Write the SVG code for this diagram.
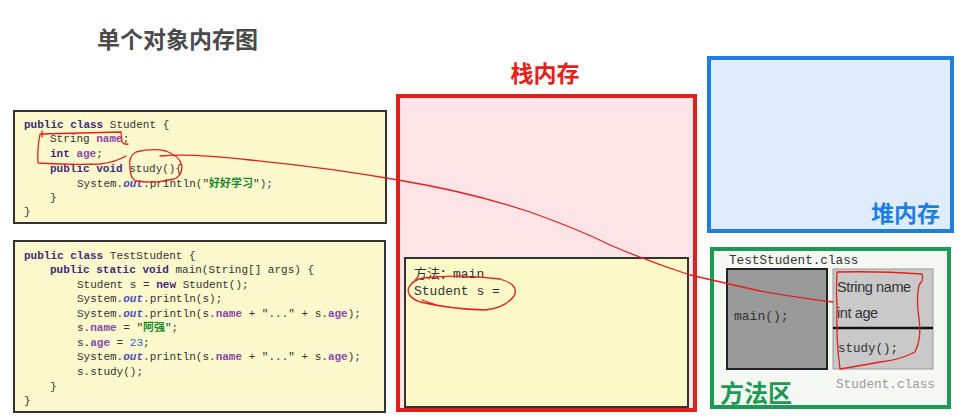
<svg xmlns="http://www.w3.org/2000/svg" width="963" height="418" viewBox="0 0 963 418">
<style>
.code{font-family:"Liberation Mono","Noto Sans CJK SC",monospace;font-size:11px;fill:#333}
.kw{fill:#3f2a7a;font-weight:bold}
.fld{fill:#8a48a8;font-weight:bold}
.st{fill:#4a4ac0;font-style:italic;font-weight:bold}
.str{fill:#1a8a2a;font-weight:bold}
.num{fill:#2a62d0}
.box{fill:#fdf9cc;stroke:#333;stroke-width:2}
.cjk{font-family:"Noto Sans CJK SC",sans-serif;font-weight:bold}
.mono{font-family:"Liberation Mono","Noto Sans CJK SC",monospace;fill:#333}
.ink{fill:none;stroke:#e3201b;stroke-width:1.3;stroke-linecap:round;stroke-linejoin:round}
</style>
<rect width="963" height="418" fill="#ffffff"/>
<g id="title">
<text x="97" y="48" class="cjk" font-size="23" fill="#4a4a4a">单个对象内存图</text>
</g>
<g id="code-student">
<rect class="box" x="14" y="111" width="372" height="112"/>
<text class="code" x="24" y="128"><tspan class="kw">public class</tspan> Student {</text>
<text class="code" x="50" y="142">String <tspan class="fld">name</tspan>;</text>
<text class="code" x="50" y="157"><tspan class="kw">int</tspan> <tspan class="fld">age</tspan>;</text>
<text class="code" x="50" y="172"><tspan class="kw">public void</tspan> study(){</text>
<text class="code" x="77" y="187">System.<tspan class="st">out</tspan>.println("<tspan class="str">好好学习</tspan>");</text>
<text class="code" x="50" y="201">}</text>
<text class="code" x="24" y="215">}</text>
</g>
<g id="code-teststudent">
<rect class="box" x="14" y="241" width="371" height="171"/>
<text class="code" x="24" y="259"><tspan class="kw">public class</tspan> TestStudent {</text>
<text class="code" x="50" y="273"><tspan class="kw">public static void</tspan> main(String[] args) {</text>
<text class="code" x="77" y="288">Student s = <tspan class="kw">new</tspan> Student();</text>
<text class="code" x="77" y="302">System.<tspan class="st">out</tspan>.println(s);</text>
<text class="code" x="77" y="317">System.<tspan class="st">out</tspan>.println(s.<tspan class="fld">name</tspan> + "..." + s.<tspan class="fld">age</tspan>);</text>
<text class="code" x="77" y="331">s.<tspan class="fld">name</tspan> = "<tspan class="str">阿强</tspan>";</text>
<text class="code" x="77" y="346">s.<tspan class="fld">age</tspan> = <tspan class="num">23</tspan>;</text>
<text class="code" x="77" y="360">System.<tspan class="st">out</tspan>.println(s.<tspan class="fld">name</tspan> + "..." + s.<tspan class="fld">age</tspan>);</text>
<text class="code" x="77" y="375">s.study();</text>
<text class="code" x="50" y="390">}</text>
<text class="code" x="24" y="404">}</text>
</g>
<g id="stack">
<text x="545" y="82" class="cjk" font-size="23" fill="#e3201b" text-anchor="middle">栈内存</text>
<rect x="398" y="96" width="297" height="314" fill="#fde4e6" stroke="#e3201b" stroke-width="4"/>
<rect x="405" y="258" width="283" height="149" fill="#fdf8c8" stroke="#333" stroke-width="2"/>
<text x="414" y="278" class="mono" font-size="13">方法：main</text>
<text x="414" y="295" class="mono" font-size="13">Student s =</text>
</g>
<g id="heap">
<rect x="709" y="58" width="243" height="173" fill="#deecfb" stroke="#1f7fe0" stroke-width="4"/>
<text x="940" y="222" class="cjk" font-size="23" fill="#1f7fe0" text-anchor="end">堆内存</text>
</g>
<g id="method-area">
<rect x="712" y="249" width="237" height="158" fill="#f4f7f2" stroke="#1a9a55" stroke-width="4"/>
<text x="729" y="264" class="mono" font-size="12.7">TestStudent.class</text>
<rect x="727" y="269" width="100" height="100" fill="#9a9a9a" stroke="#222" stroke-width="2"/>
<text x="734" y="320" class="mono" font-size="13">main();</text>
<rect x="833" y="269" width="100" height="100" fill="#c9c9c9" stroke="#999" stroke-width="1"/>
<line x1="833" y1="328" x2="933" y2="328" stroke="#111" stroke-width="2.5"/>
<text x="837" y="292" font-family="'Liberation Sans',sans-serif" font-size="14.5" letter-spacing="-0.4" fill="#333">String name</text>
<text x="837" y="318" font-family="'Liberation Sans',sans-serif" font-size="14.5" letter-spacing="-0.4" fill="#333">int age</text>
<text x="838" y="352" class="mono" font-size="12.5">study();</text>
<text x="836" y="388" class="mono" font-size="12.7" fill="#9a9a9a" style="fill:#9a9a9a">Student.class</text>
<text x="720" y="402" class="cjk" font-size="24" fill="#1a9a55">方法区</text>
</g>
<g id="connectors">
<path class="ink" d="M42,131 L42,137 M41,134 Q80,133 121,132 L122,142 Q124,145 128,144 M40,134 Q37,150 38,163 Q70,165 100,164 Q116,162 126,156"/>
<path class="ink" d="M130,168 Q128,156 136,152 Q152,148 166,151 Q180,156 182,166 Q182,176 174,179 Q155,184 136,181 Q130,178 130,168"/>
<path class="ink" d="M160,156 Q190,153 250,160 Q330,168 398,180 Q470,192 530,212 Q580,230 610,245 Q650,262 690,275 Q730,284 760,291 Q800,298 833,302"/>
<path class="ink" d="M423,278 Q460,274 500,279 Q520,285 514,296 Q505,308 485,310 Q450,309 420,302 Q405,296 409,287 Q413,280 423,278 M422,300 Q430,303 437,305"/>
<path class="ink" d="M837,272 Q880,271 922,274 Q924,280 919,285 Q916,300 919,318 Q922,338 915,352 Q900,360 880,362 Q858,366 840,369 Q836,340 837,305 Q836,290 837,272"/>
</g>
</svg>
